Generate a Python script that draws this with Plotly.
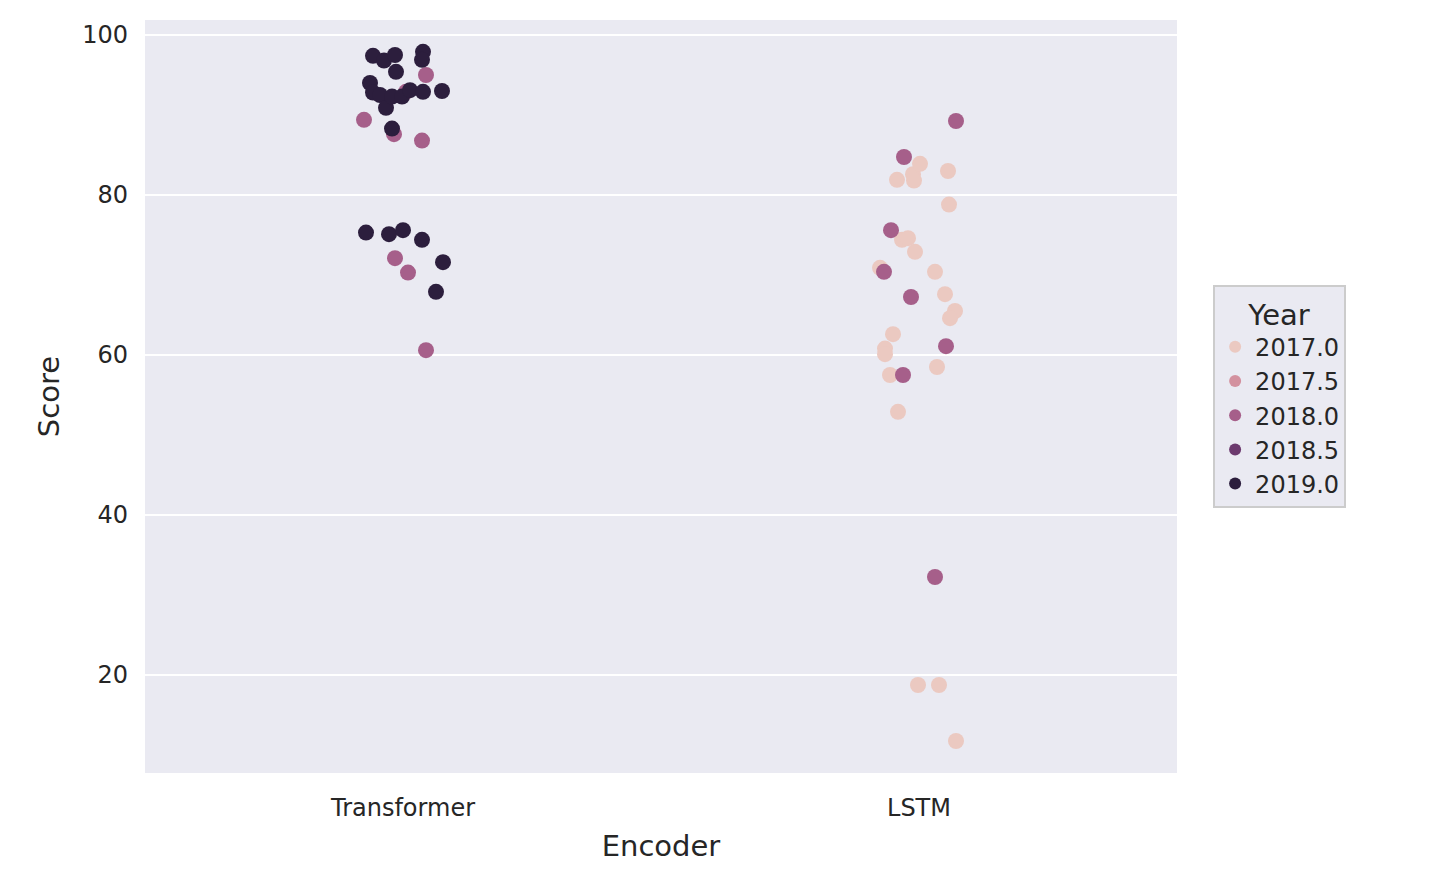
import plotly.graph_objects as go

encoders = ['Transformer', 'LSTM']
year_levels = ['2017.0', '2017.5', '2018.0', '2018.5', '2019.0']
year_colors = ['#ebc9c1', '#d3919f', '#a65f8a', '#6c3a6e', '#2c1e3d']

# Transformer, 2019
tr19_off = [-30, -19, -8, -7, 20, 19, -33, -30, -23, -17, -11, -1, 7, 20, 39, -11, -37, -14, 0, 19, 40, 33]
tr19_score = [97.4, 96.8, 97.5, 95.4, 97.9, 96.9, 94.0, 92.8, 92.5, 90.9, 92.3, 92.3, 93.1, 92.9, 93.0,
              88.3, 75.3, 75.1, 75.6, 74.4, 71.6, 67.9]
# Transformer, 2018
tr18_off = [23, 3, -39, -9, 19, -8, 5, 23]
tr18_score = [95.0, 92.9, 89.4, 87.6, 86.8, 72.1, 70.3, 60.6]
# LSTM, 2017
ls17_off = [-22, -6, -5, 1, 29, 30, -17, -11, -4, -39, 16, 26, 36, 31, -26, -34, -34, -29, 18, -21,
            -1, 20, 37]
ls17_score = [81.9, 82.6, 81.8, 83.9, 83.0, 78.8, 74.4, 74.6, 72.9, 70.9, 70.4, 67.6, 65.5, 64.6, 62.6,
              60.8, 60.1, 57.5, 58.5, 52.9, 18.75, 18.75, 11.75]
# LSTM, 2018
ls18_off = [37, -15, -28, -35, -8, 27, -16, 16]
ls18_score = [89.25, 84.75, 75.6, 70.4, 67.25, 61.1, 57.5, 32.25]

px_per_unit = 516.0

fig = go.Figure()

def strip(cat, offs, scores, color):
    xs = [cat + o / px_per_unit for o in offs]
    fig.add_trace(go.Scatter(x=xs, y=scores, mode='markers', showlegend=False,
                             marker=dict(color=color, size=16, line=dict(width=0))))

strip(0, tr18_off, tr18_score, year_colors[2])
strip(0, tr19_off, tr19_score, year_colors[4])
strip(1, ls17_off, ls17_score, year_colors[0])
strip(1, ls18_off, ls18_score, year_colors[2])

for lvl, col in zip(year_levels, year_colors):
    fig.add_trace(go.Scatter(x=[None], y=[None], mode='markers', name=lvl,
                             marker=dict(color=col, size=16)))

fig.update_layout(
    width=1431, height=890,
    margin=dict(l=137, r=262, t=12, b=125),
    paper_bgcolor='white', plot_bgcolor='#eaeaf2',
    font=dict(family='DejaVu Sans', size=24, color='#262626'),
    legend=dict(title=dict(text='Year', side='top center'), x=1.035, y=0.5, yanchor='middle',
                bgcolor='#eaeaf2', bordercolor='#cccccc', borderwidth=2,
                font=dict(size=24), itemsizing='constant', entrywidth=170, tracegroupgap=6),
)
fig.update_xaxes(range=[-0.5, 1.5], tickvals=[0, 1], ticktext=encoders, showgrid=False,
                 zeroline=False, title=dict(text='Encoder', standoff=14), ticks='',
                 ticklabelstandoff=18, tickfont=dict(size=24))
fig.update_yaxes(range=[7.75, 101.875], tickvals=[20, 40, 60, 80, 100], gridcolor='white',
                 gridwidth=2, zeroline=False, title=dict(text='Score', standoff=14), ticks='',
                 ticklabelstandoff=16, tickfont=dict(size=24))

fig.write_html("out.html")
